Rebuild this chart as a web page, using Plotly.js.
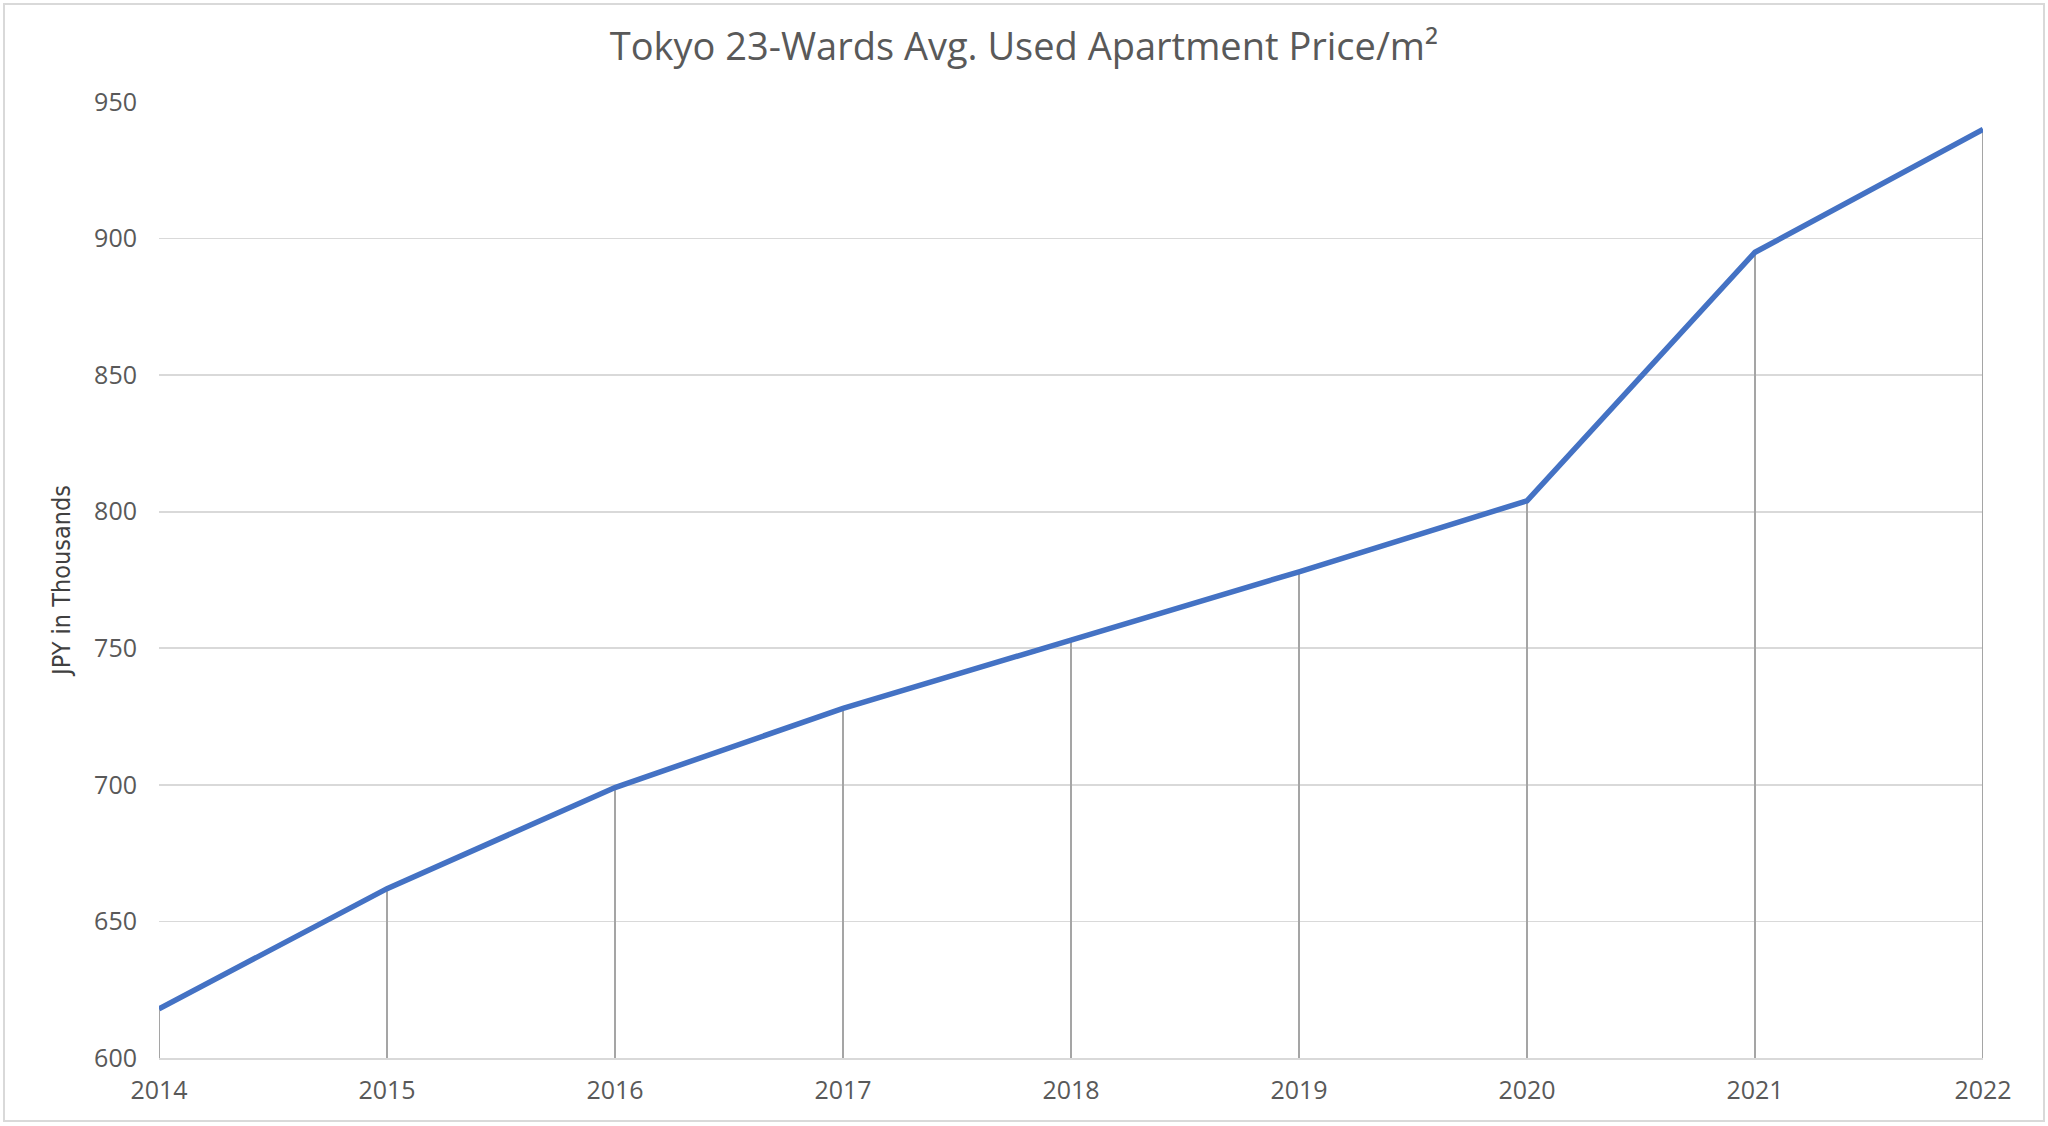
<!DOCTYPE html>
<html>
<head>
<meta charset="utf-8">
<script src="https://cdn.plot.ly/plotly-3.0.1.min.js"></script>
<style>
  html, body { margin: 0; padding: 0; background: #fff; }
  #chart { position: absolute; left: 0; top: 0; width: 2048px; height: 1126px; }
  #frame {
    position: absolute; left: 3px; top: 3px; width: 2042px; height: 1119px;
    box-sizing: border-box; border: 2px solid #d9d9d9; pointer-events: none;
  }
</style>
</head>
<body>
<div id="chart"></div>
<div id="frame"></div>
<script>
const years = [2014, 2015, 2016, 2017, 2018, 2019, 2020, 2021, 2022];
const yearLabels = ["2014", "2015", "2016", "2017", "2018", "2019", "2020", "2021", "2022"];
const pricePerM2 = [618, 662, 699, 728, 753, 778, 804, 895, 940];
const yTicks = [600, 650, 700, 750, 800, 850, 900, 950];

const Y_MIN = yTicks[0];
const Y_MAX = yTicks[yTicks.length - 1];
const LABEL_GRAY = "#595959";

// Excel-style drop lines: error bars running from each point down to the axis floor
const dropLines = {
  type: "scatter",
  mode: "markers",
  x: years,
  y: pricePerM2,
  marker: { size: 1, opacity: 0 },
  error_y: {
    type: "data",
    symmetric: false,
    array: pricePerM2.map(() => 0),
    arrayminus: pricePerM2.map((v) => v - Y_MIN),
    color: "#a5a5a5",
    thickness: 2,
    width: 0,
  },
  cliponaxis: false,
  hoverinfo: "skip",
  showlegend: false,
};

const priceLine = {
  type: "scatter",
  mode: "lines",
  x: years,
  y: pricePerM2,
  line: { color: "#4472c4", width: 5.5 },
  cliponaxis: false,
  showlegend: false,
};

Plotly.newPlot(
  "chart",
  [dropLines, priceLine],
  {
    width: 2048,
    height: 1126,
    paper_bgcolor: "#fff",
    plot_bgcolor: "#fff",
    margin: { l: 159, r: 65, t: 102, b: 68, pad: 0 },
    font: { family: "Open Sans, sans-serif", color: LABEL_GRAY, size: 25 },
    title: {
      text: "Tokyo 23-Wards Avg. Used Apartment Price/m²",
      font: { family: "Open Sans, sans-serif", size: 38, color: LABEL_GRAY },
      x: 0.5,
      xanchor: "center",
      xref: "container",
      y: 1 - 47 / 1126,
      yanchor: "middle",
      yref: "container",
    },
    xaxis: {
      range: [years[0], years[years.length - 1]],
      tickvals: years,
      ticktext: yearLabels,
      showgrid: false,
      zeroline: false,
      showline: true,
      linecolor: "#d9d9d9",
      linewidth: 2,
      ticks: "",
      ticklabelstandoff: 9,
      tickfont: { size: 25, color: LABEL_GRAY },
      fixedrange: true,
    },
    yaxis: {
      range: [Y_MIN, Y_MAX],
      tickvals: yTicks,
      showgrid: true,
      gridcolor: "#d9d9d9",
      gridwidth: 1.7,
      zeroline: false,
      showline: false,
      ticks: "",
      ticklabelstandoff: 21,
      tickfont: { size: 25, color: LABEL_GRAY },
      title: {
        text: "JPY in Thousands",
        font: { family: "Liberation Sans Narrow, DejaVu Sans Condensed, sans-serif", size: 25, color: "#404040" },
        standoff: 16,
      },
      fixedrange: true,
    },
  },
  { displayModeBar: false, staticPlot: true }
);
</script>
</body>
</html>
